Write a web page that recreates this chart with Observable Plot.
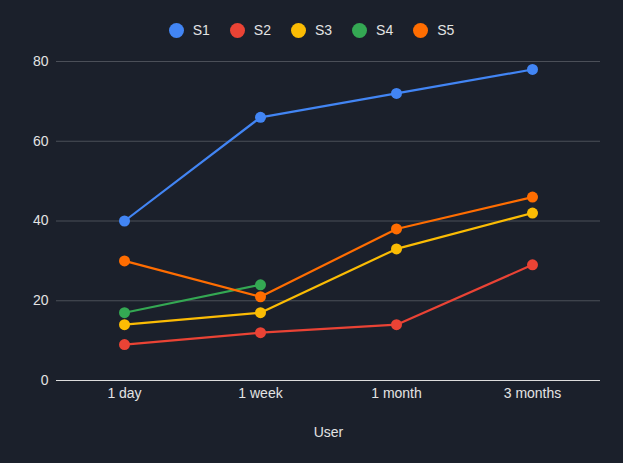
<!DOCTYPE html>
<html><head><meta charset="utf-8">
<script src="https://cdn.jsdelivr.net/npm/d3@7"></script>
<script src="https://cdn.jsdelivr.net/npm/@observablehq/plot@0.6"></script>
<style>
html,body{margin:0;padding:0;background:#1b202b;}
body{width:623px;height:463px;overflow:hidden;font-family:"Liberation Sans",Arial,sans-serif;}
#legend{height:50px;display:flex;justify-content:center;align-items:center;gap:20px;color:#e3e3e3;font-size:14px;padding-top:10px;box-sizing:border-box;}
.item{display:flex;align-items:center;gap:9px;}
.sw{width:15px;height:15px;border-radius:50%;display:inline-block;}
</style></head>
<body>
<div id="legend"></div>
<div id="chart"></div>
<script>
const categories = ["1 day", "1 week", "1 month", "3 months"];
const seriesNames = ["S1", "S2", "S3", "S4", "S5"];
const colors = ["#4285f4", "#ea4335", "#fbbc04", "#34a853", "#ff6d01"];
const S1 = [40, 66, 72, 78];
const S2 = [9, 12, 14, 29];
const S3 = [14, 17, 33, 42];
const S4 = [17, 24];
const S5 = [30, 21, 38, 46];
const yTicks = [0, 20, 40, 60, 80];
const xLabel = "User";

const values = [S1, S2, S3, S4, S5];
const rows = [];
values.forEach((arr, i) => arr.forEach((v, j) => rows.push({series: seriesNames[i], cat: categories[j], value: v})));

const legend = document.getElementById("legend");
seriesNames.forEach((s, i) => {
  const it = document.createElement("div");
  it.className = "item";
  it.innerHTML = `<span class="sw" style="background:${colors[i]}"></span><span>${s}</span>`;
  legend.appendChild(it);
});

const chart = Plot.plot({
  width: 623,
  height: 413,
  marginLeft: 56,
  marginRight: 23,
  marginTop: 11,
  marginBottom: 83,
  style: {background: "#1b202b", color: "#e3e3e3", fontSize: "14px", fontFamily: "'Liberation Sans', Arial, sans-serif"},
  x: {type: "point", domain: categories, padding: 0.5, label: null},
  y: {domain: [0, 80], ticks: yTicks, label: null},
  color: {domain: seriesNames, range: colors},
  marks: [
    Plot.gridY(yTicks.filter(d => d > 0), {stroke: "#4b4f58", strokeOpacity: 1, strokeWidth: 1}),
    Plot.ruleY([0], {stroke: "#dcdcdc", strokeWidth: 1}),
    Plot.axisY({ticks: yTicks, tickSize: 0, tickPadding: 8, label: null, fill: "#e3e3e3", fontSize: 14}),
    Plot.axisX({tickSize: 0, tickPadding: 8, label: null, fill: "#e3e3e3", fontSize: 14}),
    Plot.text([xLabel], {frameAnchor: "bottom", dy: 56, text: d => d, fill: "#e3e3e3", fontSize: 14}),
    Plot.line(rows, {x: "cat", y: "value", z: "series", stroke: "series", strokeWidth: 2.2}),
    Plot.dot(rows, {x: "cat", y: "value", fill: "series", r: 5.5})
  ]
});
document.getElementById("chart").appendChild(chart);
</script>
</body></html>
